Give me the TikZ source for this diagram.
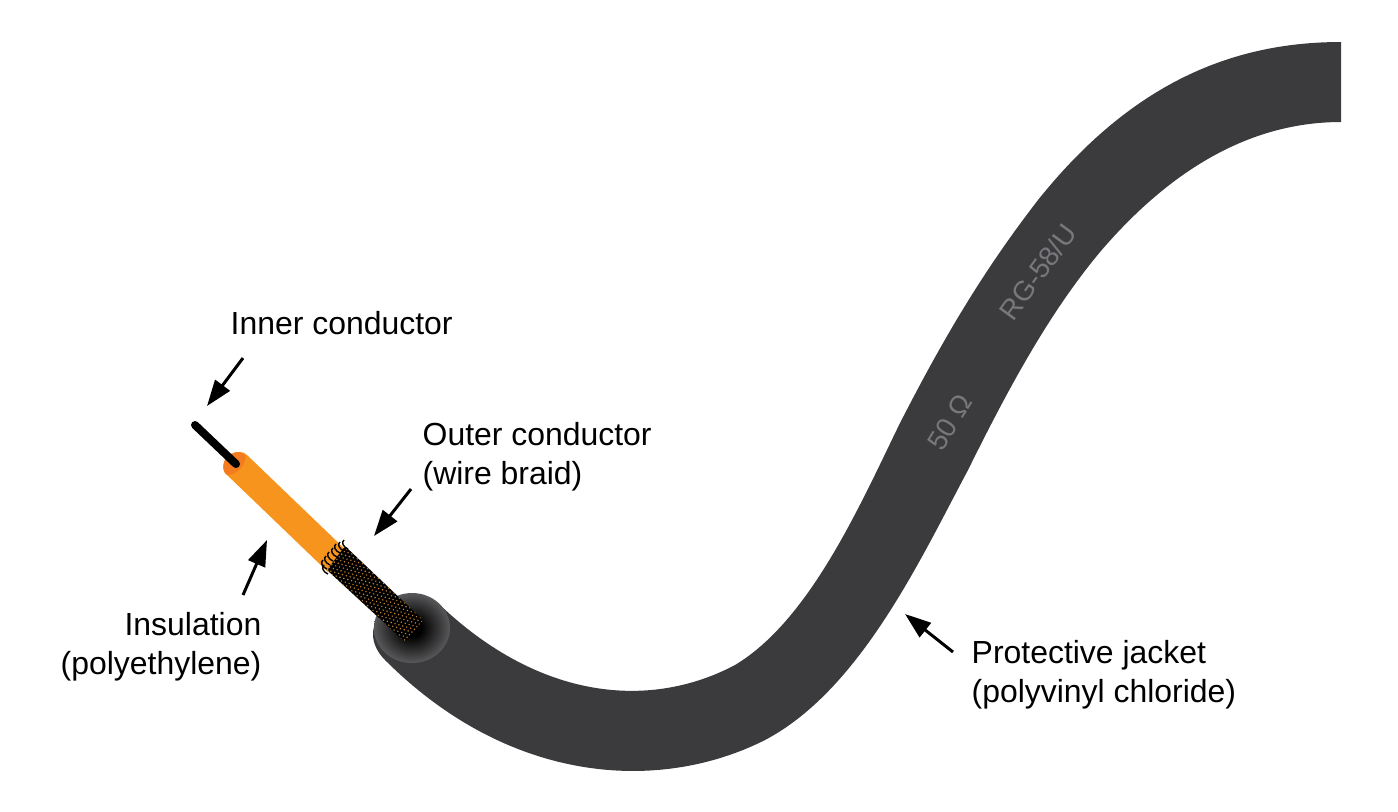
\documentclass[tikz,border=0pt]{standalone}
\usepackage{fontspec}
\setmainfont{Liberation Sans}
\usetikzlibrary{arrows.meta}
\definecolor{jacket}{HTML}{3B3B3D}
\definecolor{capgrey}{HTML}{59595B}
\definecolor{insul}{HTML}{F7941E}
\definecolor{insulend}{HTML}{F47B20}
\definecolor{print}{HTML}{77787B}
\definecolor{strand}{HTML}{C8842E}
\pgfdeclareradialshading{capshade}{\pgfpoint{0bp}{0bp}}{color(0bp)=(black);color(6bp)=(black);color(25bp)=(capgrey);color(50bp)=(capgrey)}
\tikzset{
    partlabel/.style={font=\fontsize{9.08}{11.2}\selectfont, align=left, inner sep=0pt},
    pointer/.style={line width=0.85pt, -{Triangle[length=2.6mm, width=1.8mm]}},
    printed/.style={font=\fontsize{7.9}{9}\selectfont, text=print, inner sep=0pt}
}
\begin{document}
\begin{tikzpicture}[x=0.01cm,y=-0.01cm]
    \useasboundingbox (0,0) rectangle (1398,811);

    % jacket
    \coordinate (J1) at (1341,42);
    \coordinate (J2) at (1038,200);
    \coordinate (J3) at (900,423);
    \coordinate (J4) at (735,665);
    \coordinate (J5) at (440,605);
    \coordinate (K1) at (1341,122);
    \coordinate (K2) at (1100,252);
    \coordinate (K3) at (968,470);
    \coordinate (K4) at (765,740);
    \coordinate (K5) at (385,660);
    \fill[jacket] (J1) .. controls (1230,42) and (1130,85) .. (J2)
        .. controls (980,275) and (940,345) .. (J3)
        .. controls (860,505) and (810,620) .. (J4)
        .. controls (650,710) and (540,700) .. (J5)
        .. controls (425,590) and (400,588) .. (385,610)
        .. controls (368,625) and (370,645) .. (K5)
        .. controls (510,785) and (660,793) .. (K4)
        .. controls (860,690) and (920,560) .. (K3)
        .. controls (1010,385) and (1050,312) .. (K2)
        .. controls (1170,170) and (1250,122) .. (K1) -- cycle;
    \path[shading=capshade] (412,628) ellipse (38 and 35); % hollow end

    % insulation
    \coordinate (I1) at (247,455);
    \coordinate (I2) at (348,552);
    \coordinate (I3) at (328,572);
    \coordinate (I4) at (225,473);
    \fill[insul] (I1) -- (I2) -- (I3) -- (I4) .. controls (221,466) and (224,458) .. (231,454) .. controls (237,451) and (243,451) .. (I1);
    \fill[insulend] (246,456) .. controls (244,468) and (236,475) .. (227,475) .. controls (221,470) and (222,460) .. (231,454) .. controls (236,451) and (243,452) .. (246,456);

    % inner conductor
    \coordinate (W1) at (195,425);
    \coordinate (W2) at (236,464);
    \draw[line width=0.8mm, line cap=round] (W1) -- (W2);

    % braid
    \coordinate (B1) at (345,546);
    \coordinate (B2) at (423,620);
    \coordinate (B3) at (405,642);
    \coordinate (B4) at (327,570);
    \fill[black, rounded corners=0.3mm] (B1) -- (B2) -- (B3) -- (B4) -- cycle;
    \begin{scope}
        \clip (B1) -- (B2) -- (B3) -- (B4) -- cycle;
        \foreach \r in {0,...,31} {
            \foreach \c in {0,...,9} {
                \pgfmathsetmacro{\u}{3.6*\r}
                \pgfmathsetmacro{\v}{3.6*\c + 1.8*mod(\r,2)}
                \pgfmathsetmacro{\px}{327+0.7314*\u+0.682*\v}
                \pgfmathsetmacro{\py}{570+0.682*\u-0.7314*\v}
                \fill[strand] (\px,\py) circle (0.8);
            }
        }
    \end{scope}
    % frayed end
    \foreach \a/\b in {348/549, 344/551, 340/553, 337/557, 333/561, 330/565, 327/569, 328/574} {
        \draw[line width=0.4pt] (\a,\b) .. controls (\a-5,\b-2) and (\a-7,\b-7) .. (\a-4,\b-9);
    }

    % labels
    \node[partlabel, anchor=west] (inner) at (230,323) {Inner conductor};
    \node[partlabel, anchor=west] (outer) at (422,456.5) {Outer conductor\\(wire braid)};
    \node[partlabel, anchor=east, align=right] (insulation) at (262,647) {Insulation\\(polyethylene)};
    \node[partlabel, anchor=west] (protective) at (971,675) {Protective jacket\\(polyvinyl chloride)};
    \node[printed, rotate=54] (rg) at (1038,272) {RG-58/U};
    \node[printed, rotate=58] (ohm) at (950,422) {50 Ω};

    % arrows
    \coordinate (P1) at (243,358);
    \coordinate (P2) at (207,406);
    \coordinate (Q1) at (411,489);
    \coordinate (Q2) at (374,536);
    \coordinate (R1) at (243,595);
    \coordinate (R2) at (267,540);
    \coordinate (S1) at (953,652);
    \coordinate (S2) at (905,614);
    \draw[pointer] (P1) -- (P2);
    \draw[pointer] (Q1) -- (Q2);
    \draw[pointer] (R1) -- (R2);
    \draw[pointer] (S1) -- (S2);
\end{tikzpicture}
\end{document}
